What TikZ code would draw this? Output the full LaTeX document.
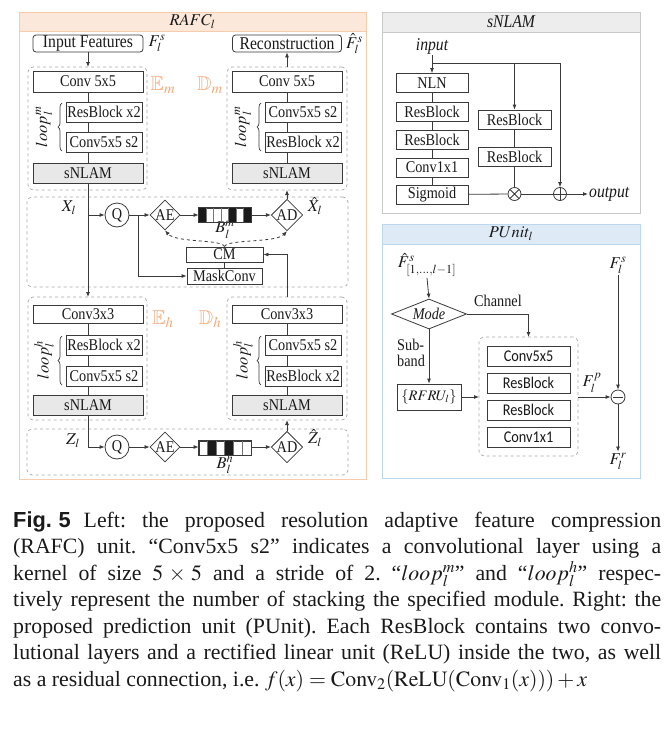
\documentclass[tikz,border=0pt]{standalone}
\usepackage{amssymb}
\usepackage{mathptmx}
\usepackage{fontspec}
\setmainfont{Liberation Serif}
\newfontfamily\dgserif{Liberation Serif}[FakeStretch=0.87]
\newfontfamily\capsans{Liberation Sans}
\newfontfamily\pusans{Carlito}[FakeStretch=0.87]
\usetikzlibrary{
  arrows.meta,
  calc,
  positioning,
  shapes.geometric,
  decorations.pathreplacing
}
\definecolor{rafcInk}{HTML}{1A1A1A}
\definecolor{rafcLine}{HTML}{3A3A3A}
\definecolor{rafcOrange}{HTML}{F8CBAD}
\definecolor{rafcOrangeFill}{HTML}{FCE8DA}
\definecolor{rafcSalmon}{HTML}{F5A97C}
\definecolor{rafcGrey}{HTML}{C9C9C9}
\definecolor{rafcGreyFill}{HTML}{EDEDED}
\definecolor{rafcBlue}{HTML}{BDD7EE}
\definecolor{rafcBlueFill}{HTML}{DEEBF7}
\definecolor{rafcDash}{HTML}{A6A6A6}
\definecolor{rafcBox}{HTML}{E8E8E8}
\newcommand{\fbig}{\dgserif\fontsize{18}{20}\selectfont}
\newcommand{\fmid}{\dgserif\fontsize{16.4}{18}\selectfont}
\newcommand{\fmath}{\fontsize{16.5}{18}\selectfont}
\newcommand{\fcap}{\fontsize{21.8}{26.5}\selectfont\frenchspacing}
\tikzset{
  every node/.style={text=rafcInk},
  box/.style={
    draw=rafcLine,
    line width=0.8pt,
    fill=white,
    minimum height=20pt,
    inner sep=1pt,
    font=\fmid
  },
  widebox/.style={box, minimum width=110pt, minimum height=21pt},
  innerbox/.style={box, minimum width=76pt},
  nlbox/.style={widebox, fill=rafcBox, minimum height=20pt},
  iobox/.style={box, rounded corners=3pt, minimum width=110pt,
    minimum height=17pt, inner sep=0.5pt, font=\fbig},
  smallbox/.style={box, minimum width=72pt, minimum height=19pt},
  pbox/.style={box, minimum width=83pt, font=\pusans\fontsize{16.4}{18}\selectfont},
  grp/.style={draw=rafcDash, dashed, rounded corners=5pt,
    line width=0.7pt, inner sep=0pt, outer sep=0pt},
  qnode/.style={circle, draw=rafcLine, line width=0.8pt,
    minimum size=24pt, inner sep=0pt, font=\fmid},
  codec/.style={diamond, draw=rafcLine, line width=0.8pt, fill=white,
    minimum width=30pt, minimum height=30pt, inner sep=0pt, font=\fmid},
  bits/.style={draw=rafcLine, line width=0.8pt, minimum width=52pt,
    minimum height=14pt, inner sep=0pt},
  lbl/.style={font=\fmath, inner sep=1pt},
  hint/.style={font=\fontsize{20}{22}\selectfont, text=rafcSalmon, inner sep=1pt},
  opnode/.style={circle, draw=rafcLine, line width=0.8pt,
    minimum size=13pt, inner sep=0pt},
  plusop/.style={opnode, path picture={
    \draw[rafcLine, line width=0.8pt]
      (path picture bounding box.north) -- (path picture bounding box.south)
      (path picture bounding box.west) -- (path picture bounding box.east);}},
  timesop/.style={opnode, path picture={
    \draw[rafcLine, line width=0.8pt]
      (path picture bounding box.north west) -- (path picture bounding box.south east)
      (path picture bounding box.south west) -- (path picture bounding box.north east);}},
  minusop/.style={opnode, minimum size=14pt, path picture={
    \draw[rafcLine, line width=0.8pt]
      ([xshift=2pt]path picture bounding box.west) -- ([xshift=-2pt]path picture bounding box.east);}},
  ln/.style={line width=0.8pt, draw=rafcLine},
  arr/.style={ln, -{Latex[length=5pt,width=4pt]}},
  dasharr/.style={arr, dashed},
  brc/.style={ln, line width=0.7pt, decorate,
    decoration={brace, amplitude=4pt}}
}

\begin{document}
\begin{tikzpicture}[x=1pt, y=-1pt]
  \useasboundingbox (0,0) rectangle (672,750);

  % panels
  \draw[rafcOrange, line width=1pt, fill=rafcOrangeFill] (19,12) rectangle (366,31);
  \draw[rafcOrange, line width=1pt] (19,12) rectangle (366,479);
  \node[lbl] (rafcT) at (192.5,21.5) {$RAFC_l$};
  \draw[rafcGrey, line width=1pt, fill=rafcGreyFill] (382,12) rectangle (640,32);
  \draw[rafcGrey, line width=1pt] (382,12) rectangle (640,213);
  \node[font=\fbig\itshape] (snlamT) at (511,22) {sNLAM};
  \draw[rafcBlue, line width=1pt, fill=rafcBlueFill] (382,224) rectangle (640,244);
  \draw[rafcBlue, line width=1pt] (382,224) rectangle (640,478);
  \node[lbl] (punitT) at (511,234) {$PUnit_l$};

  % dashed groups
  \node[grp, minimum width=119pt, minimum height=123pt] (emgrp) at (87.5,128.5) {};
  \node[grp, minimum width=120pt, minimum height=123pt] (dmgrp) at (287,128.5) {};
  \node[grp, minimum width=321pt, minimum height=90pt] (midgrp) at (187.5,242) {};
  \node[grp, minimum width=119pt, minimum height=123pt] (ehgrp) at (87.5,358.5) {};
  \node[grp, minimum width=120pt, minimum height=123pt] (dhgrp) at (287,358.5) {};
  \node[grp, minimum width=321pt, minimum height=46pt] (botgrp) at (187.5,452) {};

  % main-resolution encoder / decoder
  \node[iobox] (inp) at (88,43.5) {Input Features};
  \node[lbl, right=4pt of inp] (fsin) {$F_l^s$};
  \node[iobox, minimum width=109pt] (rec) at (287,43.5) {Reconstruction};
  \node[lbl, right=3pt of rec] (fsrec) {$\hat{F}_l^s$};

  \node[widebox] (emconv) at (88,81.5) {Conv 5x5};
  \node[innerbox] (emrb) at (104,112) {ResBlock x2};
  \node[innerbox] (emcs) at (104,142) {Conv5x5 s2};
  \node[nlbox] (emnl) at (88,173) {sNLAM};
  \draw[brc] (62,151) -- (62,103);
  \node[lbl, rotate=90] (loopem) at (44,127) {$loop_l^m$};

  \node[widebox] (dmconv) at (287,81.5) {Conv 5x5};
  \node[innerbox] (dmcs) at (303,112) {Conv5x5 s2};
  \node[innerbox] (dmrb) at (303,142) {ResBlock x2};
  \node[nlbox] (dmnl) at (287,173) {sNLAM};
  \draw[brc] (261,151) -- (261,103);
  \node[lbl, rotate=90] (loopdm) at (243,127) {$loop_l^m$};

  \node[hint] (Em) at (163,85) {$\mathbb{E}_m$};
  \node[hint] (Dm) at (210,85) {$\mathbb{D}_m$};

  % hyper encoder / decoder
  \node[widebox, minimum height=18pt] (ehconv) at (88,314) {Conv3x3};
  \node[innerbox] (ehrb) at (104,345) {ResBlock x2};
  \node[innerbox] (ehcs) at (104,376) {Conv5x5 s2};
  \node[nlbox] (ehnl) at (88,405) {sNLAM};
  \draw[brc] (62,385) -- (62,336);
  \node[lbl, rotate=90] (loopeh) at (44,360) {$loop_l^h$};

  \node[widebox, minimum height=18pt] (dhconv) at (287,314) {Conv3x3};
  \node[innerbox] (dhcs) at (303,345) {Conv5x5 s2};
  \node[innerbox] (dhrb) at (303,376) {ResBlock x2};
  \node[nlbox] (dhnl) at (287,405) {sNLAM};
  \draw[brc] (261,385) -- (261,336);
  \node[lbl, rotate=90] (loopdh) at (243,360) {$loop_l^h$};

  \node[hint] (Eh) at (163,319) {$\mathbb{E}_h$};
  \node[hint] (Dh) at (210,319) {$\mathbb{D}_h$};

  % chains inside the groups
  \foreach \top/\bot/\col in {emconv/emrb/emconv, emrb/emcs/emconv, emcs/emnl/emconv,
      dmconv/dmcs/dmconv, dmcs/dmrb/dmconv, dmrb/dmnl/dmconv,
      ehconv/ehrb/ehconv, ehrb/ehcs/ehconv, ehcs/ehnl/ehconv,
      dhconv/dhcs/dhconv, dhcs/dhrb/dhconv, dhrb/dhnl/dhconv}
    \draw[ln] (\col.south |- \top.south) -- (\col.south |- \bot.north);

  % latent X_l
  \node[lbl] (xl) at (69,208) {$X_l$};
  \node[qnode] (q1) at (117,215) {Q};
  \node[codec] (ae1) at (165,215) {AE};
  \node[bits] (bitsm) at (225,215) {};
  \node[lbl] (bm) at (225,230) {$B_l^m$};
  \node[codec] (ad1) at (287,215) {AD};
  \node[lbl] (xhat) at (315,206) {$\hat{X}_l$};
  \node[box, minimum width=77pt, minimum height=15pt] (cm) at (224.5,254.5) {CM};
  \node[box, minimum width=75pt, minimum height=16pt] (mask) at (224.5,276) {MaskConv};
  \coordinate (qbr) at (138,215);

  \foreach \i in {0,4,6}
    \fill[rafcInk] ([xshift=\i*7.43pt]bitsm.north west) rectangle ++(7.43,14);
  \foreach \i in {1,...,6}
    \draw[rafcLine!70, line width=0.5pt] ([xshift=\i*7.43pt]bitsm.north west)
      -- ([xshift=\i*7.43pt]bitsm.south west);
  \draw[ln] (bitsm.north west) rectangle (bitsm.south east);

  \draw[arr] (inp.south) -- (inp.south |- emgrp.north);
  \draw[arr] (dmgrp.north -| rec) -- (rec.south);
  \draw[arr] (emnl.south) -- (emnl.south |- ehgrp.north);
  \draw[arr] (emnl.south |- q1) -- (q1.west);
  \draw[arr] (q1) -- (ae1);
  \draw[arr] (ae1) -- (bitsm);
  \draw[arr] (bitsm) -- (ad1);
  \draw[arr] (ad1.north) -- (ad1.north |- dmgrp.south);
  \draw[arr] (qbr) |- (mask.west);
  \draw[ln] (cm) -- (mask);
  \draw[arr] (dhgrp.north -| dhconv) |- (cm.east);
  \draw[dasharr] (cm.north) .. controls (222,239) and (176,243) .. (ae1.south);
  \draw[dasharr] (cm.north) .. controls (227,239) and (276,243) .. (ad1.south);

  % latent Z_l
  \node[lbl] (zl) at (73,441) {$Z_l$};
  \node[qnode] (q2) at (117,447) {Q};
  \node[codec] (ae2) at (165,447) {AE};
  \node[bits] (bitsh) at (225,448) {};
  \node[lbl] (bh) at (225,464) {$B_l^h$};
  \node[codec] (ad2) at (287,447) {AD};
  \node[lbl] (zhat) at (315,438) {$\hat{Z}_l$};

  \foreach \i in {1,3}
    \fill[rafcInk] ([xshift=\i*8.67pt]bitsh.north west) rectangle ++(8.67,14);
  \foreach \i in {1,...,5}
    \draw[rafcLine!70, line width=0.5pt] ([xshift=\i*8.67pt]bitsh.north west)
      -- ([xshift=\i*8.67pt]bitsh.south west);
  \draw[ln] (bitsh.north west) rectangle (bitsh.south east);

  \draw[arr] (ehnl.south) |- (q2.west);
  \draw[arr] (q2) -- (ae2);
  \draw[arr] (ae2) -- (ae2 -| bitsh.west);
  \draw[arr] (bitsh.east |- ad2) -- (ad2);
  \draw[arr] (ad2.north) -- (ad2.north |- dhgrp.south);

  % sNLAM
  \node[font=\fbig\itshape, inner sep=1pt] (inlbl) at (432,46) {input};
  \node[smallbox] (nln) at (432,83) {NLN};
  \node[smallbox] (srb1) at (432,111.5) {ResBlock};
  \node[smallbox] (srb2) at (432,139.5) {ResBlock};
  \node[smallbox] (sc11) at (432,167.5) {Conv1x1};
  \node[smallbox] (ssig) at (432,194.5) {Sigmoid};
  \node[smallbox, minimum width=73pt] (trb1) at (514.5,119.5) {ResBlock};
  \node[smallbox, minimum width=73pt] (trb2) at (514.5,157) {ResBlock};
  \node[timesop] (mul) at (514.5,194) {};
  \node[plusop] (add) at (560,194) {};
  \node[font=\fbig\itshape, anchor=west, inner sep=1pt] (outlbl) at (588,194) {output};
  \coordinate (sj) at (432,63);

  \draw[arr] (inlbl.south) -- (nln.north);
  \draw[arr] (sj) -| (trb1.north);
  \draw[arr] (sj) -| (add.north);
  \foreach \top/\bot in {nln/srb1, srb1/srb2, srb2/sc11, sc11/ssig, trb1/trb2}
    \draw[ln] (\top) -- (\bot);
  \draw[ln] (trb2) -- (mul);
  \draw[ln] (ssig) -- (mul);
  \draw[ln] (mul) -- (add);
  \draw[arr] (add) -- (outlbl.west);

  % PUnit
  \node[lbl] (fhat) at (427,265) {$\hat{F}^s_{[1,\ldots,l-1]}$};
  \node[diamond, aspect=2.5, draw=rafcLine, line width=0.8pt, minimum width=75pt,
    minimum height=30pt, inner sep=0pt, font=\fmid\itshape] (mode) at (429,314) {Mode};
  \node[font=\fmid] (chan) at (498,301) {Channel};
  \node[font=\fmid, anchor=west, align=left, inner sep=0pt] (subb) at (397,353)
    {Sub-\\[-2pt]band};
  \node[box, minimum width=64pt, minimum height=26pt, font=\fontsize{14.5}{16}\selectfont]
    (rfru) at (429,397) {$\{RFRU_l\}$};
  \node[grp, minimum width=99pt, minimum height=119pt] (pugrp) at (528.5,396.5) {};
  \node[pbox] (pc55) at (528.5,356) {Conv5x5};
  \node[pbox] (prb1) at (528.5,383) {ResBlock};
  \node[pbox] (prb2) at (528.5,410) {ResBlock};
  \node[pbox] (pc11) at (528.5,437) {Conv1x1};
  \node[minusop] (sub) at (618,397) {};
  \node[lbl] (fp) at (592,383) {$F_l^p$};
  \node[lbl] (fsp) at (618,265) {$F_l^s$};
  \node[lbl] (frp) at (618,461) {$F_l^r$};

  \draw[arr] (fhat.south) -- (mode.north);
  \draw[arr] (mode.east) -| (pugrp.north);
  \draw[arr] (mode.south) -- (rfru.north);
  \draw[arr] (rfru.east) -- (rfru.east -| pugrp.west);
  \draw[arr] (pugrp.east |- sub) -- (sub.west);
  \draw[arr] (fsp.south) -- (sub.north);
  \draw[arr] (sub.south) -- (frp.north);

  % caption
  \node[anchor=north west, text width=648pt, align=justify, inner sep=0pt,
    font=\fcap] (caption) at (13,511) {%
    {\capsans\bfseries Fig.\hspace{0.3em}5}\hspace{0.6em}Left: the proposed resolution adaptive feature compression\linebreak
    (RAFC) unit. ``Conv5x5 s2'' indicates a convolutional layer using a\linebreak
    kernel of size $5\times 5$ and a stride of 2. ``$loop_l^m$'' and ``$loop_l^h$'' respec-\linebreak
    tively represent the number of stacking the specified module. Right: the\linebreak
    proposed prediction unit (PUnit). Each ResBlock contains two convo-\linebreak
    lutional layers and a rectified linear unit (ReLU) inside the two, as well\linebreak
    as a residual connection, i.e.\ $f(x)=\mathrm{Conv}_2(\mathrm{ReLU}(\mathrm{Conv}_1(x)))+x$};
\end{tikzpicture}
\end{document}
